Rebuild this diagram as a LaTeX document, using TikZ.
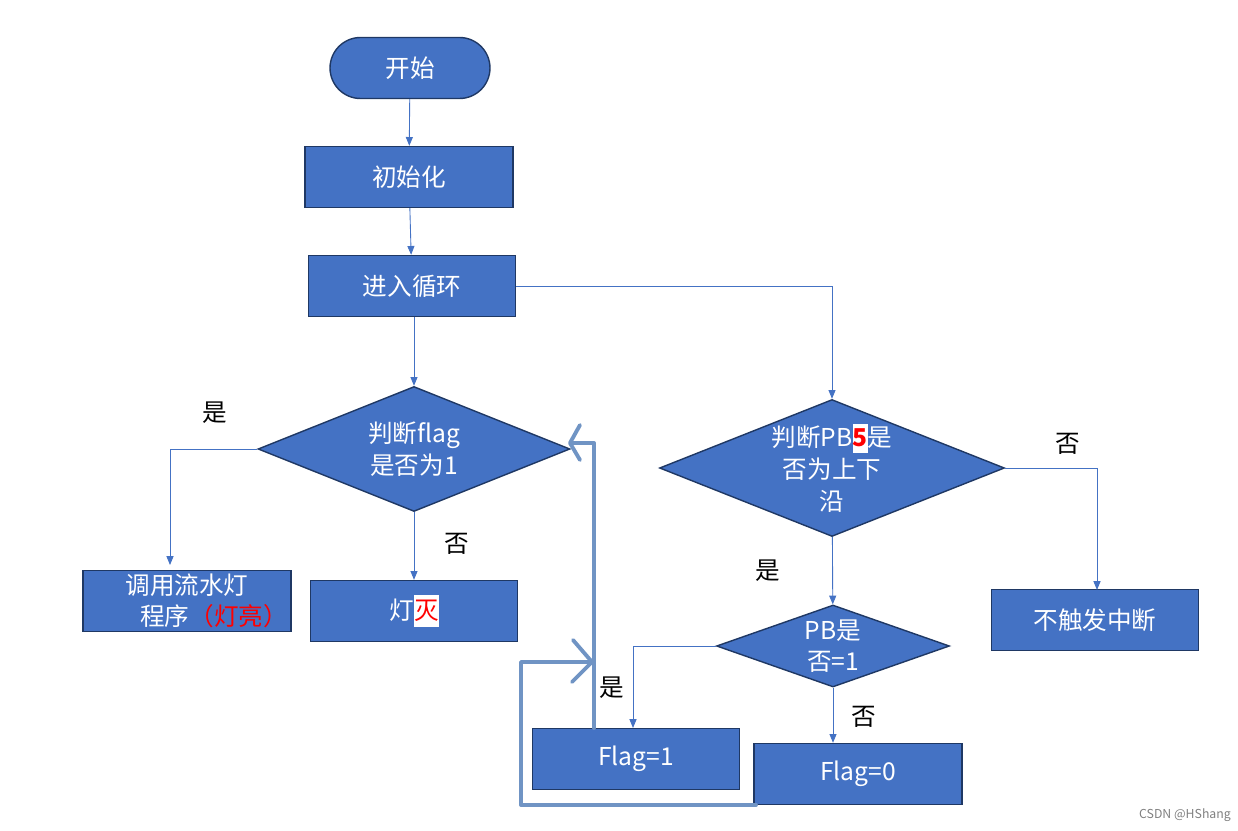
\documentclass[tikz,border=0pt]{standalone}
\usepackage{fontspec}
\setmainfont{Noto Sans CJK SC}
\usetikzlibrary{shapes.geometric,shapes.misc,arrows.meta}
\definecolor{boxblue}{HTML}{4472C4}
\definecolor{boxline}{HTML}{1F3864}
\definecolor{penblue}{RGB}{112,148,196}
\tikzset{
  base/.style={draw=boxline,fill=boxblue,text=white,line width=0.8pt,font=\fontsize{14}{18}\selectfont,align=center,inner sep=0pt},
  proc/.style={base,rectangle,minimum width=#1*0.02cm,minimum height=1.22cm},
  dec/.style={base,diamond,aspect=2.5},
  conn/.style={draw=boxblue,-{Triangle[length=5pt,width=4pt]},line width=0.5pt},
  pen/.style={draw=penblue,line width=2.2pt,line cap=round,line join=round},
  lbl/.style={font=\fontsize{14}{18}\selectfont}
}
\newcommand{\proc}[5]{\node[proc=#4] (#1) at (#2,#3) {#5};}
\newcommand{\link}[2]{\draw[conn] (#1) -- (#2);}
\newcommand{\linkhv}[2]{\draw[conn] (#1) -| (#2);}

\begin{document}
\begin{tikzpicture}[x=0.02cm,y=-0.02cm]
    \useasboundingbox (0,0) rectangle (1238,831);
    \node[base,rounded rectangle,minimum width=3.2cm,minimum height=1.22cm] (start) at (410,68) {开始};
    \proc{init}{409}{177}{208}{初始化}
    \proc{loop}{412}{286}{207}{进入循环}
    \node[dec,minimum width=6.24cm,minimum height=2.5cm] (flag) at (414,449) {判断flag\\是否为1};
    \node[dec,minimum width=6.9cm,minimum height=2.74cm] (pb) at (832,468) {判断PB\colorbox{white}{\kern-3pt\textcolor{red}{\textbf{5}}\kern-3pt}是\\否为上下\\沿};
    \proc{led}{187}{601}{208}{调用流水灯\\\hspace*{2.2em}程序\textcolor{red}{（灯亮）}}
    \proc{off}{414}{611}{207}{灯\colorbox{white}{\kern-3pt\textcolor{red}{灭}\kern-3pt}}
    \proc{none}{1095}{620}{207}{不触发中断}
    \node[dec,minimum width=4.66cm,minimum height=1.64cm] (edge) at (833,646) {PB是\\否=1};
    \proc{f1}{636}{759}{207}{Flag=1}
    \proc{f0}{858}{774}{208}{Flag=0}
    % flow
    \link{start}{init}\link{init}{loop}
    \draw[conn] (loop.south -| flag.north) -- (flag.north);
    \linkhv{loop}{pb.north}
    \draw[conn] (flag.west) -| (170,565);
    \link{flag}{off}
    \draw[conn] (pb.east) -| (1097,590);
    \link{pb}{edge}
    \draw[conn] (edge.west) -| (633,728);
    \draw[conn] (edge.south) -- (edge.south |- f0.north);
    % labels
    \node[lbl] (l1) at (215,413) {是};
    \node[lbl] (l2) at (457,544) {否};
    \node[lbl] (l3) at (1068,444) {否};
    \node[lbl] (l4) at (768,571) {是};
    \node[lbl] (l5) at (612,688) {是};
    \node[lbl] (l6) at (864,717) {否};
    % pen strokes
    \coordinate (p1) at (594,443);
    \coordinate (p2) at (521,662);
    \draw[pen] (594,728) -- (p1) -- (572,443);
    \draw[pen] (580,425) -- (570,443) -- (580,460);
    \draw[pen] (756,805) -- (521,805) -- (p2) -- (592,662);
    \draw[pen] (573,640) -- (592,662) -- (572,682);
    \node[text=gray,font=\fontsize{7}{8}\selectfont] (wm) at (1185,815) {CSDN @HShang};
\end{tikzpicture}
\end{document}
